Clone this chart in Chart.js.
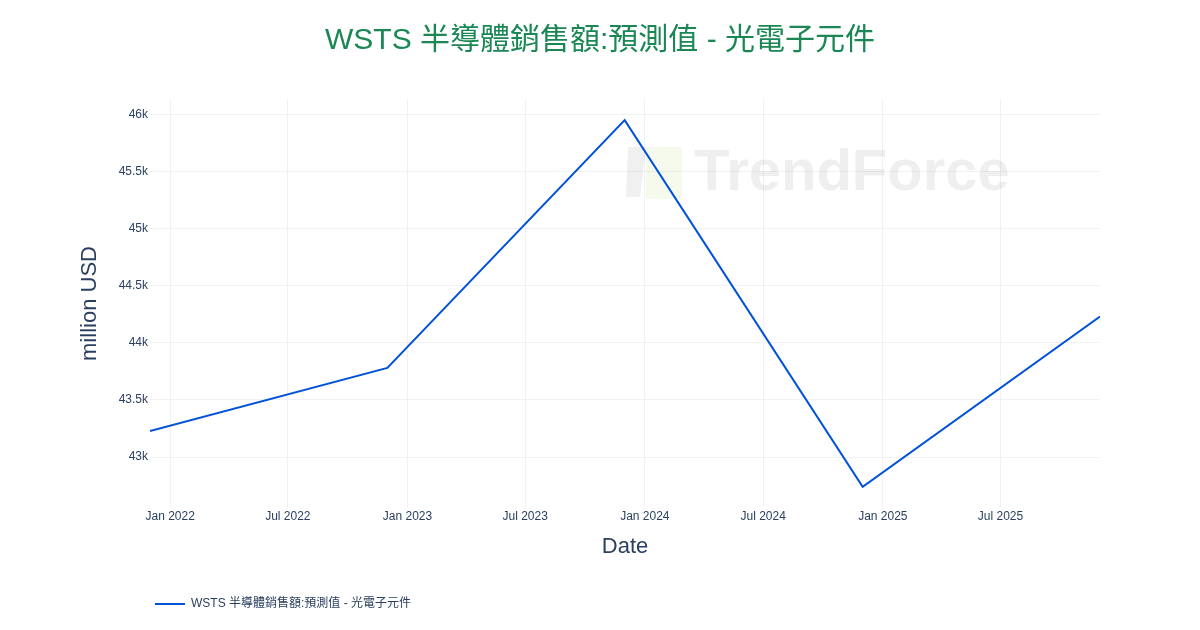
<!DOCTYPE html>
<html>
<head>
<meta charset="utf-8">
<script src="https://cdn.jsdelivr.net/npm/chart.js@4.4.0/dist/chart.umd.min.js"></script>
<style>
  html, body { margin: 0; padding: 0; background: #fff; }
  #wrap { width: 1200px; height: 630px; position: relative; }
</style>
</head>
<body>
<div id="wrap"><canvas id="c" width="1200" height="630"></canvas></div>
<script>
const titleText = 'WSTS 半導體銷售額:預測值 - 光電子元件';
const seriesName = 'WSTS 半導體銷售額:預測值 - 光電子元件';
const dates = ['2021-12-01', '2022-12-01', '2023-12-01', '2024-12-01', '2025-12-01'];
const values = [43228, 43781, 45950, 42739, 44231];
const xTickDates = ['2022-01-01', '2022-07-01', '2023-01-01', '2023-07-01', '2024-01-01', '2024-07-01', '2025-01-01', '2025-07-01'];
const yTickValues = [43000, 43500, 44000, 44500, 45000, 45500, 46000];
const monthNames = ['Jan','Feb','Mar','Apr','May','Jun','Jul','Aug','Sep','Oct','Nov','Dec'];

const toTs = s => Date.parse(s + 'T00:00:00Z');
const points = dates.map((d, i) => ({ x: toTs(d), y: values[i] }));
const xTicks = xTickDates.map(toTs);

const vMin = Math.min(...values), vMax = Math.max(...values);
const pad = (vMax - vMin) * 0.055;

const textColor = '#2a3f5f';
const gridColor = '#f0f1f3';

const watermark = {
  id: 'watermark',
  beforeDatasetsDraw(chart) {
    const { ctx, chartArea: a } = chart;
    ctx.save();
    const bx = a.left + (a.right - a.left) * 0.501;
    const by = a.top + 45;
    ctx.fillStyle = 'rgba(120,120,120,0.11)';
    ctx.beginPath();
    ctx.moveTo(bx + 2, by + 2); ctx.lineTo(bx + 20, by + 2); ctx.lineTo(bx + 14, by + 52); ctx.lineTo(bx, by + 52); ctx.closePath();
    ctx.fill();
    ctx.fillStyle = 'rgba(170,210,110,0.12)';
    ctx.fillRect(bx + 20, by + 2, 36, 52);
    ctx.fillStyle = 'rgba(110,110,110,0.11)';
    ctx.font = 'bold 58px "Liberation Sans", Arial, sans-serif';
    ctx.textBaseline = 'middle';
    ctx.fillText('TrendForce', bx + 68, by + 29);
    ctx.restore();
  }
};

new Chart(document.getElementById('c'), {
  type: 'line',
  data: {
    datasets: [{
      label: seriesName,
      data: points,
      borderColor: '#0052d9',
      backgroundColor: '#0052d9',
      borderWidth: 2,
      pointRadius: 0,
      pointHoverRadius: 0,
      tension: 0,
      fill: false
    }]
  },
  plugins: [watermark],
  options: {
    responsive: false,
    animation: false,
    devicePixelRatio: 1,
    layout: { padding: { left: 0, right: 0, top: 0, bottom: 10 } },
    plugins: {
      tooltip: { enabled: false },
      title: {
        display: true,
        text: titleText,
        color: '#1a8754',
        font: { family: '"Liberation Sans", Arial, "Noto Sans CJK TC", sans-serif', size: 30, weight: 'normal' },
        padding: { top: 23, bottom: 41 }
      },
      legend: {
        display: true,
        position: 'bottom',
        align: 'start',
        fullSize: false,
        labels: {
          usePointStyle: true,
          pointStyle: 'line',
          pointStyleWidth: 30,
          boxHeight: 12,
          padding: 5,
          color: textColor,
          font: { family: '"Liberation Sans", Arial, "Noto Sans CJK TC", sans-serif', size: 12 }
        }
      }
    },
    scales: {
      x: {
        type: 'linear',
        min: points[0].x,
        max: points[points.length - 1].x,
        afterBuildTicks(scale) { scale.ticks = xTicks.map(v => ({ value: v })); },
        afterFit(scale) { scale.height = 86; },
        grid: { color: gridColor, lineWidth: 1, drawTicks: false },
        border: { display: false },
        ticks: {
          autoSkip: false,
          maxRotation: 0,
          padding: 2,
          color: textColor,
          font: { family: '"Liberation Sans", Arial, sans-serif', size: 12 },
          callback(v) { const d = new Date(v); return monthNames[d.getUTCMonth()] + ' ' + d.getUTCFullYear(); }
        },
        title: {
          display: true,
          text: 'Date',
          color: textColor,
          font: { family: '"Liberation Sans", Arial, sans-serif', size: 22 },
          padding: { top: 0, bottom: 33 }
        }
      },
      y: {
        type: 'linear',
        position: 'left',
        min: vMin - pad,
        max: vMax + pad,
        afterBuildTicks(scale) { scale.ticks = yTickValues.map(v => ({ value: v })); },
        afterFit(scale) { scale.width = 150; },
        grid: { color: gridColor, lineWidth: 1, drawTicks: false },
        border: { display: false },
        ticks: {
          padding: 2,
          color: textColor,
          font: { family: '"Liberation Sans", Arial, sans-serif', size: 12 },
          callback(v) { return (v / 1000) + 'k'; }
        },
        title: {
          display: true,
          text: 'million USD',
          color: textColor,
          font: { family: '"Liberation Sans", Arial, sans-serif', size: 22 },
          padding: { top: 77, bottom: 0 }
        }
      },
      yRightSpace: {
        type: 'linear',
        position: 'right',
        display: true,
        afterFit(scale) { scale.width = 100; },
        grid: { display: false, drawOnChartArea: false },
        border: { display: false },
        ticks: { display: false }
      }
    }
  }
});
</script>
</body>
</html>
